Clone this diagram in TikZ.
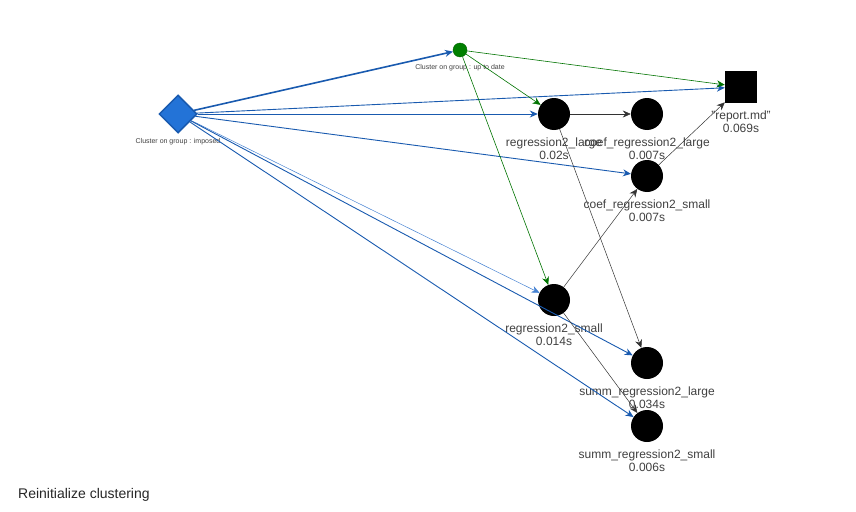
\documentclass[tikz,border=0pt]{standalone}
\usepackage{fontspec}
\setmainfont{Liberation Sans}
\usetikzlibrary{shapes.geometric,arrows.meta}
\definecolor{eb}{RGB}{25,90,175}
\definecolor{df}{RGB}{35,115,215}
\definecolor{lb}{RGB}{70,130,210}
\begin{document}
\begin{tikzpicture}[x=1pt,y=-1pt,
  dot/.style={circle,fill=black,minimum size=32pt,inner sep=0pt},
  lab/.style={font=\fontsize{12}{13}\selectfont,text=black!75,align=center,inner sep=0pt},
  small/.style={font=\fontsize{7}{8}\selectfont,text=black!75,inner sep=0pt},
  blu/.style={draw=eb,-{Stealth[length=8pt,width=7pt]},line width=0.9pt},
  grn/.style={draw=green!45!black,-{Stealth[length=8pt,width=7pt]},line width=0.6pt},
  blk/.style={draw=black!80,-{Stealth[length=8pt,width=7pt]},line width=0.5pt}]
\useasboundingbox (0,0) rectangle (856,511);
\node[diamond,draw=eb,fill=df,line width=1.5pt,minimum size=38pt,inner sep=0pt] (imp) at (178,114) {};
\node[circle,draw=green!40!black,fill=green!50!black,minimum size=14pt,inner sep=0pt] (utd) at (460,50) {};
\node[dot] (r2l) at (554,114) {};
\node[dot] (cl) at (647,114) {};
\node[dot] (cs) at (647,176) {};
\node[rectangle,fill=black,minimum size=32pt,inner sep=0pt] (rep) at (741,87) {};
\node[dot] (r2s) at (554,300) {};
\node[dot] (sl) at (647,363) {};
\node[dot] (ss) at (647,426) {};
\node[small] (limp) at (178,142) {Cluster on group : imposed};
\node[small] (lutd) at (460,68) {Cluster on group : up to date};
\node[lab] (l1) at (554,149) {regression2\_large\\0.02s};
\node[lab] (l2) at (647,149) {coef\_regression2\_large\\0.007s};
\node[lab] (l3) at (647,211) {coef\_regression2\_small\\0.007s};
\node[lab] (l4) at (741,122) {"report.md"\\0.069s};
\node[lab] (l5) at (554,335) {regression2\_small\\0.014s};
\node[lab] (l6) at (647,398) {summ\_regression2\_large\\0.034s};
\node[lab] (l7) at (647,461) {summ\_regression2\_small\\0.006s};
\node[font=\fontsize{14}{16}\selectfont,text=black!85,anchor=west,inner sep=0pt] (t) at (18,495) {Reinitialize clustering};
% blue
\draw[blu,line width=1.6pt] (imp) -- (utd);
\draw[blu] (imp) -- (rep);
\draw[blu] (imp) -- (r2l);
\draw[blu] (imp) -- (cs);
\draw[blu,line width=0.5pt,draw=lb] (imp) -- (r2s);
\draw[blu] (imp) -- (sl);
\draw[blu] (imp) -- (ss);
% green
\draw[grn] (utd) -- (rep);
\draw[grn] (utd) -- (r2l);
\draw[grn] (utd) -- (r2s);
% black
\draw[blk] (r2l) -- (cl);
\draw[blk] (r2l) -- (sl);
\draw[blk] (r2s) -- (cs);
\draw[blk] (cs) -- (rep);
\draw[blk] (r2s) -- (ss);
\end{tikzpicture}
\end{document}
